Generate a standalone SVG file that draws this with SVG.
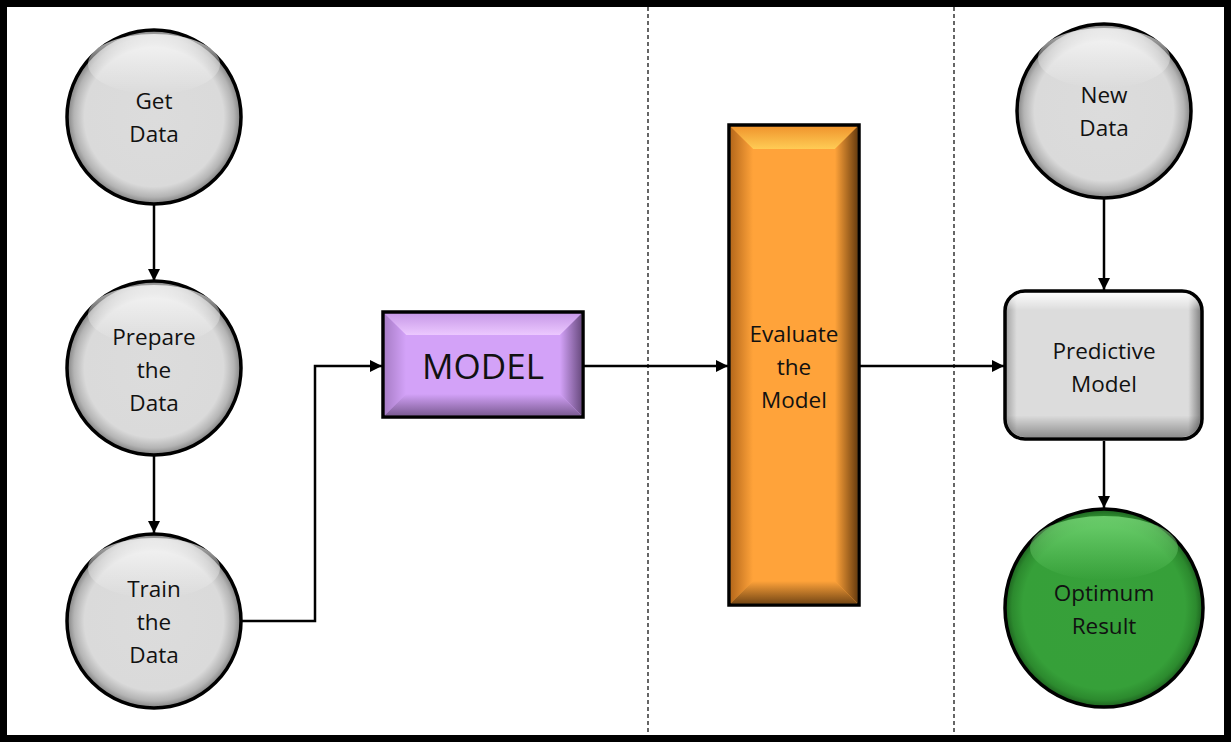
<svg xmlns="http://www.w3.org/2000/svg" width="1231" height="742" viewBox="0 0 1231 742">
<defs>
<radialGradient id="gray" cx="50%" cy="50%" r="50%">
<stop offset="0" stop-color="#dcdcdc"/>
<stop offset="0.8" stop-color="#dadada"/>
<stop offset="0.92" stop-color="#b4b4b4"/>
<stop offset="1" stop-color="#808080"/>
</radialGradient>
<radialGradient id="green" cx="50%" cy="50%" r="50%">
<stop offset="0" stop-color="#37a03a"/>
<stop offset="0.82" stop-color="#36a039"/>
<stop offset="0.93" stop-color="#2c8a2e"/>
<stop offset="1" stop-color="#1d601f"/>
</radialGradient>
<linearGradient id="hl" x1="0" y1="0" x2="0" y2="1">
<stop offset="0" stop-color="#ffffff" stop-opacity="0.75"/>
<stop offset="1" stop-color="#ffffff" stop-opacity="0"/>
</linearGradient>
<linearGradient id="hlg" x1="0" y1="0" x2="0" y2="1">
<stop offset="0" stop-color="#7fe07f" stop-opacity="0.75"/>
<stop offset="1" stop-color="#7fe07f" stop-opacity="0"/>
</linearGradient>
<linearGradient id="pmH" x1="0" y1="0" x2="1" y2="0">
<stop offset="0" stop-color="#a0a0a0"/>
<stop offset="0.06" stop-color="#dcdcdc"/>
<stop offset="0.93" stop-color="#dcdcdc"/>
<stop offset="1" stop-color="#7a7a7a"/>
</linearGradient>
<linearGradient id="pmV" x1="0" y1="0" x2="0" y2="1">
<stop offset="0" stop-color="#ffffff" stop-opacity="0.9"/>
<stop offset="0.12" stop-color="#ffffff" stop-opacity="0"/>
<stop offset="0.85" stop-color="#000000" stop-opacity="0"/>
<stop offset="1" stop-color="#000000" stop-opacity="0.35"/>
</linearGradient>
<linearGradient id="oL" x1="0" y1="0" x2="1" y2="0"><stop offset="0" stop-color="#b86a1c"/><stop offset="1" stop-color="#ffa33a"/></linearGradient>
<linearGradient id="oR" x1="0" y1="0" x2="1" y2="0"><stop offset="0" stop-color="#ffa33a"/><stop offset="1" stop-color="#6e4010"/></linearGradient>
<linearGradient id="oT" x1="0" y1="0" x2="0" y2="1"><stop offset="0" stop-color="#f0962e"/><stop offset="1" stop-color="#ffcc55"/></linearGradient>
<linearGradient id="oB" x1="0" y1="0" x2="0" y2="1"><stop offset="0" stop-color="#ffa33a"/><stop offset="1" stop-color="#7a4a16"/></linearGradient>
<linearGradient id="pL" x1="0" y1="0" x2="1" y2="0"><stop offset="0" stop-color="#a97ec8"/><stop offset="1" stop-color="#d3a2f8"/></linearGradient>
<linearGradient id="pR" x1="0" y1="0" x2="1" y2="0"><stop offset="0" stop-color="#d3a2f8"/><stop offset="1" stop-color="#6e4f85"/></linearGradient>
<linearGradient id="pT" x1="0" y1="0" x2="0" y2="1"><stop offset="0" stop-color="#c89ae8"/><stop offset="1" stop-color="#ecc8ff"/></linearGradient>
<linearGradient id="pB" x1="0" y1="0" x2="0" y2="1"><stop offset="0" stop-color="#d3a2f8"/><stop offset="1" stop-color="#7e5d96"/></linearGradient>
<marker id="arr" viewBox="0 0 10 10" refX="10" refY="5" markerWidth="5" markerHeight="5" orient="auto" markerUnits="strokeWidth">
<path d="M0,0 L10,5 L0,10 z" fill="#000"/>
</marker>
</defs>
<style>
.t{font-family:"Open Sans","Noto Sans","Liberation Sans",sans-serif;font-size:22.5px;fill:#111;text-anchor:middle}
.ol{stroke:#000;stroke-width:3.5}
.c{fill:none;stroke:#000;stroke-width:2.5}
</style>
<rect x="3.5" y="3.5" width="1224" height="735" fill="#fff" stroke="#000" stroke-width="7"/>
<g id="dividers" stroke="#000" stroke-width="1.2" stroke-dasharray="4,3">
<line x1="648" y1="7" x2="648" y2="735"/>
<line x1="954" y1="7" x2="954" y2="735"/>
</g>
<g id="connectors">
<line class="c" x1="154" y1="205" x2="154" y2="281" marker-end="url(#arr)"/>
<line class="c" x1="154" y1="456" x2="154" y2="533" marker-end="url(#arr)"/>
<polyline class="c" points="242,621 315,621 315,366 382,366" marker-end="url(#arr)"/>
<line class="c" x1="584" y1="366" x2="728" y2="366" marker-end="url(#arr)"/>
<line class="c" x1="860" y1="366" x2="1004" y2="366" marker-end="url(#arr)"/>
<line class="c" x1="1104" y1="198" x2="1104" y2="290" marker-end="url(#arr)"/>
<line class="c" x1="1104" y1="441" x2="1104" y2="508" marker-end="url(#arr)"/>
</g>
<g id="get-data">
<circle cx="154" cy="117" r="87" fill="url(#gray)" class="ol"/>
<ellipse cx="154" cy="64" rx="66" ry="30" fill="url(#hl)"/>
<text class="t" x="154" y="109">Get</text>
<text class="t" x="154" y="142">Data</text>
</g>
<g id="prepare-data">
<circle cx="154" cy="368" r="87" fill="url(#gray)" class="ol"/>
<ellipse cx="154" cy="315" rx="66" ry="30" fill="url(#hl)"/>
<text class="t" x="154" y="345">Prepare</text>
<text class="t" x="154" y="378">the</text>
<text class="t" x="154" y="411">Data</text>
</g>
<g id="train-data">
<circle cx="154" cy="621" r="87" fill="url(#gray)" class="ol"/>
<ellipse cx="154" cy="568" rx="66" ry="30" fill="url(#hl)"/>
<text class="t" x="154" y="597">Train</text>
<text class="t" x="154" y="630">the</text>
<text class="t" x="154" y="663">Data</text>
</g>
<g id="model">
<rect x="383" y="312" width="200" height="105" fill="#d3a2f8" class="ol"/>
<polygon points="385,314 581,314 560,335 406,335" fill="url(#pT)"/>
<polygon points="385,314 406,335 406,394 385,415" fill="url(#pL)"/>
<polygon points="581,314 581,415 560,394 560,335" fill="url(#pR)"/>
<polygon points="385,415 406,394 560,394 581,415" fill="url(#pB)"/>
<text x="483" y="379" style="font-family:'Open Sans','Noto Sans','Liberation Sans',sans-serif;font-size:35px;fill:#111;text-anchor:middle">MODEL</text>
</g>
<g id="evaluate">
<rect x="729" y="125" width="130" height="480" fill="#ffa33a" class="ol"/>
<polygon points="731,127 857,127 835,149 753,149" fill="url(#oT)"/>
<polygon points="731,127 753,149 753,581 731,603" fill="url(#oL)"/>
<polygon points="857,127 857,603 835,581 835,149" fill="url(#oR)"/>
<polygon points="731,603 753,581 835,581 857,603" fill="url(#oB)"/>
<text class="t" x="794" y="342">Evaluate</text>
<text class="t" x="794" y="375">the</text>
<text class="t" x="794" y="408">Model</text>
</g>
<g id="new-data">
<circle cx="1104" cy="111" r="87" fill="url(#gray)" class="ol"/>
<ellipse cx="1104" cy="58" rx="66" ry="30" fill="url(#hl)"/>
<text class="t" x="1104" y="103">New</text>
<text class="t" x="1104" y="136">Data</text>
</g>
<g id="predictive-model">
<rect x="1005" y="291" width="197" height="148" rx="20" fill="url(#pmH)" class="ol"/>
<rect x="1007" y="293" width="193" height="144" rx="18" fill="url(#pmV)"/>
<text class="t" x="1104" y="359">Predictive</text>
<text class="t" x="1104" y="392">Model</text>
</g>
<g id="optimum-result">
<circle cx="1104" cy="608" r="99" fill="url(#green)" class="ol"/>
<ellipse cx="1104" cy="548" rx="74" ry="32" fill="url(#hlg)"/>
<text class="t" x="1104" y="601">Optimum</text>
<text class="t" x="1104" y="634">Result</text>
</g>
</svg>
